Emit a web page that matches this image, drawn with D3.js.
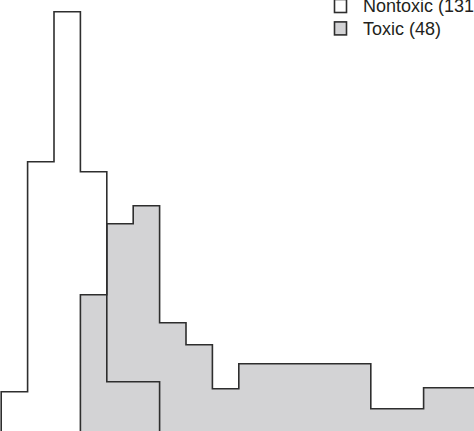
<!DOCTYPE html>
<html>
<head>
<meta charset="utf-8">
<script src="https://cdn.jsdelivr.net/npm/d3@7"></script>
<style>
  body{margin:0;background:#fff;}
  #histo{width:474px;height:431px;overflow:hidden;}
</style>
</head>
<body>
<div id="histo"></div>
<script>
// bordes de los bins (indice del bin) y alturas
var binEdges=[0,1,2,3,4,5,6,7,8,9,10,11,12,13,14,15,16,17,18]
var nontoxic=[7,30,45,29,8,8,0,0,0,0,0,0,0,0,0,0,0,0]
var toxic=[0,0,0,16.7,23.8,25.6,13.9,11.7,7.3,9.8,9.8,9.8,9.8,9.8,5.3,5.3,7.4,7.4]
var legendLabels=["Nontoxic (131)","Toxic (48)"]
var legendFill=["#ffffff","#d3d3d5"]

histograma()

function histograma(){
	var ancho=474, alto=431
	var svg=d3.select("#histo")
		.append("svg")
		.attr("width",ancho)
		.attr("height",alto)

	//Escalas: el eje cero queda por debajo del recorte de la figura
	var escalaX=d3.scaleLinear()
		.domain([0,18])
		.range([1.2,476.4])
	var escalaY=d3.scaleLinear()
		.domain([0,45])
		.range([461.7,11.7])

	//Convierto un arreglo de alturas en puntos escalonados
	function escalones(valores){
		var pts=[[binEdges[0],0]]
		valores.forEach(function(v,i){
			pts.push([binEdges[i],v])
			pts.push([binEdges[i+1],v])
		})
		pts.push([binEdges[binEdges.length-1],0])
		return pts
	}

	var linea=d3.line()
		.x(function(d){return escalaX(d[0])})
		.y(function(d){return escalaY(d[1])})

	//Toxic: relleno gris
	svg.append("path")
		.datum(escalones(toxic))
		.attr("d",function(d){return linea(d)+"Z"})
		.style("fill",legendFill[1])
		.style("stroke","#2e2e2e")
		.style("stroke-width","1.6px")
		.style("stroke-linejoin","miter")

	//Nontoxic: solo contorno encima
	svg.append("path")
		.datum(escalones(nontoxic))
		.attr("d",linea)
		.style("fill","none")
		.style("stroke","#2e2e2e")
		.style("stroke-width","1.6px")
		.style("stroke-linejoin","miter")

	//Leyenda
	var leyenda=svg.append("g")
		.attr("transform","translate(334,0)")
	var items=leyenda.selectAll(".item")
		.data(legendLabels)
		.enter()
		.append("g")
		.attr("class","item")
		.attr("transform",function(d,i){return "translate(0,"+(i*22.4)+")"})
	items.append("rect")
		.attr("x",0.5)
		.attr("y",-0.5)
		.attr("width",12)
		.attr("height",13)
		.style("fill",function(d,i){return legendFill[i]})
		.style("stroke","#2e2e2e")
		.style("stroke-width","1.6px")
	items.append("text")
		.attr("x",29)
		.attr("y",12.4)
		.text(function(d){return d})
		.style("font-family","'Liberation Sans', Arial, sans-serif")
		.style("font-size","18px")
		.style("fill","#231f20")
}
</script>
</body>
</html>
